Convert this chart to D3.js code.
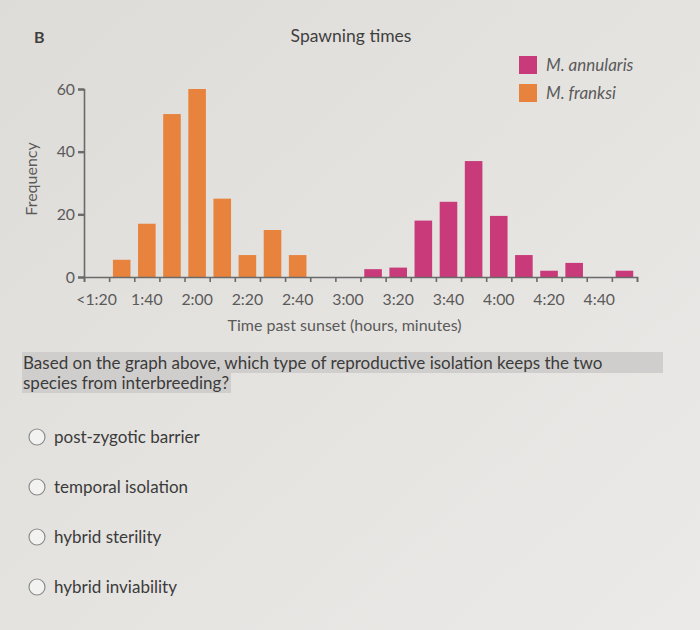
<!DOCTYPE html>
<html>
<head>
<meta charset="utf-8">
<script src="https://cdn.jsdelivr.net/npm/d3@7"></script>
<style>
  body { margin: 0; background: #e4e2df; }
  svg { display: block; }
</style>
</head>
<body>
<div id="chart-area"></div>
<script>
/*
*    spawning times histogram + question
*/

const width = 700;
const height = 630;

// bins of 10 minutes past sunset
const bins = ["<1:20", "1:30", "1:40", "1:50", "2:00", "2:10", "2:20", "2:30", "2:40", "2:50", "3:00",
              "3:10", "3:20", "3:30", "3:40", "3:50", "4:00", "4:10", "4:20", "4:30", "4:40", "4:50"];
const tickLabels = ["<1:20", "1:40", "2:00", "2:20", "2:40", "3:00", "3:20", "3:40", "4:00", "4:20", "4:40"];
const franksi   = [0, 5.5, 17, 52, 60, 25, 7, 15, 7, 0, 0, 0, 0, 0, 0, 0, 0, 0, 0, 0, 0, 0];
const annularis = [0, 0, 0, 0, 0, 0, 0, 0, 0, 0, 0, 2.5, 3, 18, 24, 37, 19.5, 7, 2, 4.5, 0, 2];
const yTicks = [0, 20, 40, 60];
const series = ["M. annularis", "M. franksi"];
const options = ["post-zygotic barrier", "temporal isolation", "hybrid sterility", "hybrid inviability"];

const colors = {"M. annularis": "#c83a79", "M. franksi": "#e8833e"};
const textColor = "#5b5a5a";
const chartFont = "Lato, 'Open Sans', sans-serif";

const margin = {left: 84, right: 63, top: 89, bottom: 353};

const svg = d3.select("#chart-area")
    .append("svg")
    .attr("width", width)
    .attr("height", height);

// photo-like background
const grad = svg.append("defs").append("linearGradient")
    .attr("id", "bg")
    .attr("x1", 0).attr("y1", 0).attr("x2", 1).attr("y2", 1);
grad.append("stop").attr("offset", "0%").attr("stop-color", "#dedcd8");
grad.append("stop").attr("offset", "100%").attr("stop-color", "#ebeae8");

svg.append("rect")
    .attr("width", "100%")
    .attr("height", "100%")
    .attr("fill", "url(#bg)");

const plotW = width - margin.left - margin.right;
const plotH = height - margin.top - margin.bottom;

const g = svg.append("g")
    .attr("transform", "translate(" + margin.left + "," + margin.top + ")");

// scales
const x = d3.scaleBand()
    .domain(bins)
    .range([0, plotW])
    .paddingInner(0.3)
    .paddingOuter(0.15);

// bin edges, for the tick marks
const xEdge = d3.scaleLinear()
    .domain([0, bins.length])
    .range([0, plotW]);

const y = d3.scaleLinear()
    .domain([0, 60])
    .range([plotH, 0]);

// bars
const rows = bins.map((b, i) => ({bin: b, "M. annularis": annularis[i], "M. franksi": franksi[i]}));

series.forEach(s => {
    g.selectAll(".bar-" + s.replace(/\W/g, ""))
        .data(rows.filter(d => d[s] > 0))
        .enter().append("rect")
        .attr("x", d => x(d.bin))
        .attr("y", d => y(d[s]))
        .attr("width", x.bandwidth())
        .attr("height", d => plotH - y(d[s]))
        .attr("fill", colors[s]);
});

// x axis: tick marks at bin edges
const xTickAxis = d3.axisBottom(xEdge)
    .tickValues(d3.range(0, bins.length + 1))
    .tickSize(5)
    .tickFormat("");

g.append("g")
    .attr("class", "x-axis")
    .attr("transform", "translate(0," + plotH + ")")
    .call(xTickAxis);

// x axis labels: centered under bins
const xLabelAxis = d3.axisBottom(x)
    .tickValues(tickLabels)
    .tickSize(0)
    .tickPadding(17);

g.append("g")
    .attr("class", "x-labels")
    .attr("transform", "translate(0," + plotH + ")")
    .call(xLabelAxis)
    .call(a => a.select(".domain").remove());

// y axis
const leftAxis = d3.axisLeft(y)
    .tickValues(yTicks)
    .tickSize(6)
    .tickPadding(3);

g.append("g")
    .attr("class", "y-axis")
    .call(leftAxis);

g.selectAll(".x-axis path, .x-axis line, .y-axis path, .y-axis line")
    .attr("stroke", "#6a6a6a")
    .attr("stroke-width", 1.6);
g.selectAll(".y-axis line").attr("stroke-width", 2.4);

g.selectAll(".x-labels text, .y-axis text")
    .attr("fill", textColor)
    .attr("font-size", "15.8px")
    .attr("font-family", chartFont);

// axis titles
g.append("text")
    .attr("x", plotW / 2 - 16)
    .attr("y", plotH + 54)
    .attr("text-anchor", "middle")
    .attr("font-size", "16px")
    .attr("font-family", chartFont)
    .attr("fill", textColor)
    .text("Time past sunset (hours, minutes)");

g.append("text")
    .attr("transform", "rotate(-90)")
    .attr("x", -(plotH / 2) + 4)
    .attr("y", -47)
    .attr("text-anchor", "middle")
    .attr("font-size", "16px")
    .attr("font-family", chartFont)
    .attr("fill", textColor)
    .text("Frequency");

// title and panel letter
svg.append("text")
    .attr("x", 351)
    .attr("y", 42)
    .attr("text-anchor", "middle")
    .attr("font-size", "17.5px")
    .attr("font-family", chartFont)
    .attr("fill", "#3f3f3f")
    .text("Spawning times");

svg.append("text")
    .attr("x", 34)
    .attr("y", 43)
    .attr("font-size", "16px")
    .attr("font-weight", "bold")
    .attr("font-family", chartFont)
    .attr("fill", "#3f3f3f")
    .text("B");

// legend
const legend = svg.append("g")
    .attr("transform", "translate(519, 56)");

const item = legend.selectAll("g")
    .data(series)
    .enter().append("g")
    .attr("transform", (d, i) => "translate(0," + (i * 28) + ")");

item.append("rect")
    .attr("width", 18)
    .attr("height", 18)
    .attr("fill", d => colors[d]);

item.append("text")
    .attr("x", 27)
    .attr("y", 15)
    .attr("font-size", "17px")
    .attr("font-style", "italic")
    .attr("font-family", chartFont)
    .attr("fill", textColor)
    .text(d => d);

// question
const q = svg.append("g");

q.append("rect")
    .attr("x", 22).attr("y", 352)
    .attr("width", 641).attr("height", 21)
    .attr("fill", "#cfcecc");
q.append("rect")
    .attr("x", 22).attr("y", 373)
    .attr("width", 209).attr("height", 20)
    .attr("fill", "#cfcecc");

q.selectAll(".qline")
    .data(["Based on the graph above, which type of reproductive isolation keeps the two",
           "species from interbreeding?"])
    .enter().append("text")
    .attr("class", "qline")
    .attr("x", 23)
    .attr("y", (d, i) => 369 + i * 20)
    .attr("font-size", "17px")
    .attr("font-family", "Lato, sans-serif")
    .attr("fill", "#3b3b3b")
    .text(d => d);

const opt = q.selectAll(".opt")
    .data(options)
    .enter().append("g")
    .attr("class", "opt")
    .attr("transform", (d, i) => "translate(0," + (437 + i * 50) + ")");

opt.append("circle")
    .attr("cx", 37)
    .attr("r", 8)
    .attr("fill", "#f2f2f1")
    .attr("stroke", "#8c8c8c")
    .attr("stroke-width", 1.2);

opt.append("text")
    .attr("x", 54)
    .attr("y", 6)
    .attr("font-size", "17px")
    .attr("font-family", "Lato, sans-serif")
    .attr("fill", "#3b3b3b")
    .text(d => d);
</script>
</body>
</html>
